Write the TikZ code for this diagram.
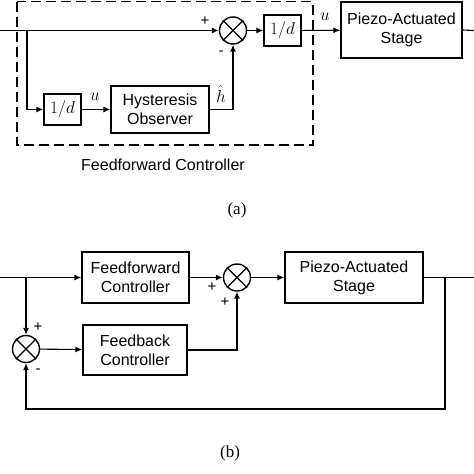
\documentclass[tikz,border=0pt]{standalone}
\usepackage{fontspec}
\setmainfont{Liberation Serif}
\setsansfont{Liberation Sans}
\usetikzlibrary{arrows.meta}

\begin{document}
\begin{tikzpicture}[x=1pt, y=-1pt,
   block/.style={draw, line width=1.4pt, align=center, inner sep=0pt,
                 font=\sffamily\fontsize{16}{19}\selectfont},
   invblock/.style={block, minimum width=37pt, minimum height=31pt,
                 font=\fontsize{19}{22}\selectfont},
   sumnode/.style={draw, circle, line width=1.4pt, minimum size=27pt, inner sep=0pt},
   sig/.style={font=\fontsize{19}{22}\selectfont, inner sep=0pt},
   sgn/.style={font=\sffamily\fontsize{15}{17}\selectfont, inner sep=0pt},
   caption/.style={font=\fontsize{17}{20}\selectfont},
   >={Latex[length=7pt,width=6pt]}, line width=1.1pt]

\useasboundingbox (0,0) rectangle (474,474);

% (a) feedforward compensation
\node[invblock] (invA) at (282.5,30.5) {$1/d$};
\node[invblock] (invB) at (62.5,109.5) {$1/d$};
\node[block, minimum width=98pt, minimum height=47pt] (obs) at (160,109.5) {Hysteresis\\Observer};
\node[block, minimum width=121pt, minimum height=56pt] (plantA) at (401.5,30) {Piezo-Actuated\\Stage};
\node[sumnode] (sumA) at (233,30.5) {};

\coordinate (inA) at (0,30.5);
\coordinate (brA) at (27,30.5);
\coordinate (outA) at (474,30.5);

\draw[->] (inA) -- (sumA.west);
\draw[->] (brA) |- (invB.west);
\draw[->] (invB) -- (obs);
\draw[->] (obs.east) -| (sumA.south);
\draw[->] (sumA) -- (invA);
\draw[->] (invA) -- (plantA);
\draw (plantA.east) -- (outA);

\node[sig] (uB) at (95,97) {$u$};
\node[sig] (hB) at (221,94) {$\hat{h}$};
\node[sig] (uA) at (325,17) {$u$};
\node[sgn] (pA) at (205,21) {+};
\node[sgn] (mA) at (221,53) {-};

\draw[line width=1.8pt, dash pattern=on 10pt off 5pt] (17,1.5) rectangle (313,145);
\node[font=\sffamily\fontsize{16}{19}\selectfont] (ffcap) at (163,165) {Feedforward Controller};
\node[caption] (capA) at (237,210) {(a)};

% (b) feedforward plus feedback
\node[block, minimum width=107pt, minimum height=51pt] (ff) at (135.5,277.5) {Feedforward\\Controller};
\node[block, minimum width=104pt, minimum height=50pt] (fb) at (135,350) {Feedback\\Controller};
\node[block, minimum width=138pt, minimum height=51pt] (plantB) at (354,277.5) {Piezo-Actuated\\Stage};
\node[sumnode] (sumB) at (237,277.5) {};
\node[sumnode] (sumC) at (26,349) {};

\coordinate (inB) at (0,277.5);
\coordinate (brB) at (26,277.5);
\coordinate (brC) at (445,277.5);
\coordinate (fbk) at (445,409);
\coordinate (outB) at (474,277.5);

\draw[->] (inB) -- (ff);
\draw[->] (brB) -- (sumC.north);
\draw[->] (ff) -- (sumB);
\draw[->] (sumC) -- (fb);
\draw[->] (fb.east) -| (sumB.south);
\draw[->] (sumB) -- (plantB);
\draw (plantB.east) -- (outB);
\draw[->] (brC) -- (fbk) -| (sumC.south);

\node[sgn] (pB) at (212,287) {+};
\node[sgn] (pC) at (225,302) {+};
\node[sgn] (pD) at (38,327) {+};
\node[sgn] (mD) at (38,371) {-};
\node[caption] (capB) at (230,453) {(b)};

% crosses in the summing junctions
\foreach \s in {sumA,sumB,sumC}
   \draw[line width=1.4pt] (\s.45) -- (\s.225) (\s.135) -- (\s.315);

\end{tikzpicture}
\end{document}
